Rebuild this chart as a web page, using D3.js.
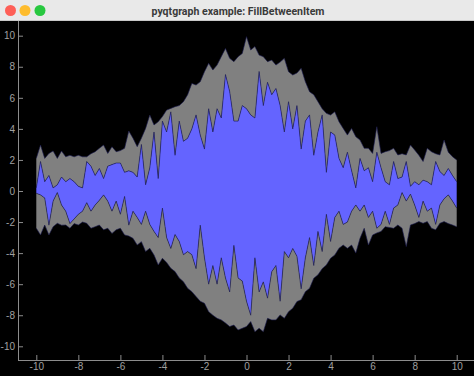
<!DOCTYPE html>
<html lang="en">
<head>
<meta charset="UTF-8">
<title>pyqtgraph example: FillBetweenItem</title>
<script src="https://d3js.org/d3.v7.min.js"></script>
<style>
  html, body { margin: 0; padding: 0; background: #fff; }
  svg { display: block; }
  .tick text { fill: #a0a0a0; font: 10px "Liberation Sans", Arial, sans-serif; }
  .tick line, .domain { stroke: #8c8c8c; }
</style>
</head>
<body>
<svg id="chart" width="474" height="376"></svg>
<script>
// x positions of the samples
var xs = [-10,-9.8,-9.6,-9.4,-9.2,-9,-8.8,-8.6,-8.4,-8.2,-8,-7.8,-7.6,-7.4,-7.2,-7,-6.8,-6.6,-6.4,-6.2,
  -6,-5.8,-5.6,-5.4,-5.2,-5,-4.8,-4.6,-4.4,-4.2,-4,-3.8,-3.6,-3.4,-3.2,-3,-2.8,-2.6,-2.4,-2.2,
  -2,-1.8,-1.6,-1.4,-1.2,-1,-0.8,-0.6,-0.4,-0.2,0,0.2,0.4,0.6,0.8,1,1.2,1.4,1.6,1.8,
  2,2.2,2.4,2.6,2.8,3,3.2,3.4,3.6,3.8,4,4.2,4.4,4.6,4.8,5,5.2,5.4,5.6,5.8,
  6,6.2,6.4,6.6,6.8,7,7.2,7.4,7.6,7.8,8,8.2,8.4,8.6,8.8,9,9.2,9.4,9.6,9.8,10];

// four curves, top to bottom
var topOuter = [2.1,2.96,2.1,2.42,2.58,2.1,2.58,2.2,2.3,2.2,2.3,2.2,2.2,2.4,2.53,2.75,2.96,2.42,2.85,2.53,
  2.6,2.75,3.86,3.4,2.85,3.4,4.03,4.89,4.25,4.46,4.79,5.21,5.32,5.43,5.5,5.75,6.2,6.93,6.82,7.04,
  7.68,8.22,7.79,8.11,8.65,9.18,8.54,8.33,8.65,8.86,9.94,9.08,9.3,8.75,8.65,8.33,8.43,8.11,8.3,8.54,
  7.68,7.47,7.6,7.9,7.04,6.39,6.2,5.75,5.3,5.0,4.89,5.1,4.46,4.03,3.6,4.03,3.5,3.28,2.75,2.75,
  2.42,4.14,2.42,2.53,2.6,2.75,2.32,2.4,2.32,2.96,2.64,2.3,1.9,2.75,2.53,2.4,2.32,3.28,2.5,2.21,2.0];

var topInner = [0.2,1.9,0.6,1.0,0.2,0.4,0.9,0.6,0.8,0.6,0.3,0.2,1.9,1.6,1.0,1.45,0.8,1.6,1.7,1.8,
  1.8,1.2,1.3,1.2,0.9,3.0,0.4,1.5,3.8,0.8,4.5,3.8,5.1,2.3,4.5,3.2,3.4,4.0,4.9,3.6,
  2.7,5.3,3.8,5.3,4.7,7.5,6.4,4.5,4.5,5.5,5.3,4.9,4.7,7.7,5.5,7.0,6.2,6.6,5.5,3.8,
  5.75,4.0,5.5,2.7,4.5,4.9,2.3,3.8,4.9,1.2,3.8,3.6,2.1,1.5,2.5,1.3,0.2,2.1,1.3,1.5,
  0.6,2.5,1.5,0.6,0.4,1.9,0.8,0.9,1.9,0.3,0.6,0.4,0.7,0.6,0.4,1.9,1.25,1.0,1.45,1.0,0.6];

var bottomInner = [-0.15,-0.25,-0.45,-2.2,-0.65,-0.1,-0.9,-1.3,-2.1,-1.8,-1.5,-1.3,-0.75,-1.3,-0.9,-0.6,-0.25,-0.65,-1.3,-0.65,
  -1.5,-0.35,-2.2,-1.3,-1.7,-2.15,-1.3,-2.15,-2.6,-3.0,-1.1,-3.0,-3.7,-2.8,-3.25,-4.1,-3.9,-4.1,-5.0,-2.2,
  -4.3,-6.0,-4.8,-6.0,-4.3,-5.6,-6.5,-3.5,-5.6,-5.8,-7.1,-8.0,-4.3,-6.5,-5.85,-6.9,-5.2,-4.8,-7.1,-3.9,
  -4.3,-3.7,-4.2,-6.3,-4.3,-3.0,-4.8,-2.6,-3.9,-1.5,-3.25,-1.7,-1.3,-2.15,-2.0,-1.3,-0.9,-1.3,-0.9,-1.7,
  -1.3,-2.4,-2.15,-1.3,-2.15,-1.1,-0.9,-0.1,-0.65,-0.2,-0.9,-1.7,-0.65,-1.3,-1.1,-2.15,-0.9,-0.5,-0.25,-0.65,-1.1];

var bottomOuter = [-2.4,-2.83,-2.19,-2.83,-2.3,-2.08,-2.2,-2.19,-2.4,-2.1,-2.19,-2.0,-2.08,-2.4,-2.3,-2.19,-2.5,-2.4,-2.73,-2.5,
  -2.4,-2.83,-2.9,-3.05,-3.48,-3.26,-3.9,-3.69,-4.12,-4.76,-4.33,-4.6,-4.98,-5.19,-5.6,-5.84,-6.27,-6.48,-6.8,-7.1,
  -7.23,-7.77,-8.0,-8.2,-8.3,-8.5,-8.73,-8.63,-8.95,-8.84,-8.73,-8.41,-9.06,-8.84,-9.06,-8.2,-8.3,-8.3,-7.98,-8.2,
  -7.77,-7.55,-7.12,-7.0,-6.48,-6.27,-5.62,-5.4,-5.0,-4.76,-4.33,-4.12,-3.69,-3.48,-3.69,-3.48,-4.0,-3.05,-2.4,-3.48,
  -2.83,-2.7,-2.6,-2.3,-2.35,-2.4,-2.19,-2.4,-3.58,-2.19,-2.1,-1.97,-2.08,-1.97,-2.4,-2.5,-2.08,-1.97,-2.1,-2.19,-2.3];

var tickValues = [-10, -8, -6, -4, -2, 0, 2, 4, 6, 8, 10];
var curves = [topOuter, topInner, bottomInner, bottomOuter];
var brushes = ["#808080", "#6464ff", "#808080"];

var W = 474, H = 376, titleH = 21;
var axisX = 18, axisY = 360;

var svg = d3.select("#chart");

// window title bar
svg.append("rect").attr("width", W).attr("height", H).attr("fill", "#000");
svg.append("rect").attr("width", W).attr("height", titleH).attr("fill", "#e9e9e9");
svg.append("line").attr("x1", 0).attr("x2", W).attr("y1", titleH - 0.5).attr("y2", titleH - 0.5)
    .attr("stroke", "#c8c8c8");
[["#fe5f57", 10.5], ["#febc2e", 25], ["#28c840", 40]].forEach(function (b) {
    svg.append("circle").attr("cx", b[1]).attr("cy", 10.5).attr("r", 5.5).attr("fill", b[0]);
});
svg.append("text")
    .attr("x", W / 2 + 1).attr("y", 14.5)
    .attr("text-anchor", "middle")
    .attr("textLength", 173).attr("lengthAdjust", "spacingAndGlyphs")
    .style("font", "bold 11.5px Roboto, 'Liberation Sans', sans-serif")
    .style("fill", "#3a3a3a")
    .text("pyqtgraph example: FillBetweenItem");

// scales
var x = d3.scaleLinear().domain([-10, 10]).range([36.3, 456.7]);
var y = d3.scaleLinear().domain([-10, 10]).range([346.3, 35.7]);
var fmt = function (d) { return String(d); };

svg.append("clipPath").attr("id", "clip")
    .append("rect").attr("x", axisX).attr("y", titleH).attr("width", W - axisX).attr("height", axisY - titleH);

var plot = svg.append("g").attr("clip-path", "url(#clip)");

var rows = xs.map(function (v, i) {
    return { x: v, c: curves.map(function (c) { return c[i]; }) };
});

// fills between consecutive curves
brushes.forEach(function (col, k) {
    var area = d3.area()
        .x(function (d) { return x(d.x); })
        .y0(function (d) { return y(d.c[k + 1]); })
        .y1(function (d) { return y(d.c[k]); });
    plot.append("path").datum(rows).attr("d", area).attr("fill", col);
});

// curve outlines (pen 'k')
curves.forEach(function (c, k) {
    var line = d3.line()
        .x(function (d) { return x(d.x); })
        .y(function (d) { return y(d.c[k]); });
    plot.append("path").datum(rows).attr("d", line)
        .attr("fill", "none").attr("stroke", "#1a1a50").attr("stroke-opacity", 0.6).attr("stroke-width", 1);
});

// axes
svg.append("g")
    .attr("transform", "translate(" + axisX + ",0)")
    .call(d3.axisLeft(y).tickValues(tickValues).tickFormat(fmt).tickSize(-5).tickPadding(3))
    .call(function (g) { g.select(".domain").attr("d", "M0.5," + titleH + "V" + axisY); });

svg.append("g")
    .attr("transform", "translate(0," + axisY + ")")
    .call(d3.axisBottom(x).tickValues(tickValues).tickFormat(fmt).tickSize(-5).tickPadding(3))
    .call(function (g) { g.select(".domain").attr("d", "M" + axisX + ",0.5H" + W); });
</script>
</body>
</html>
